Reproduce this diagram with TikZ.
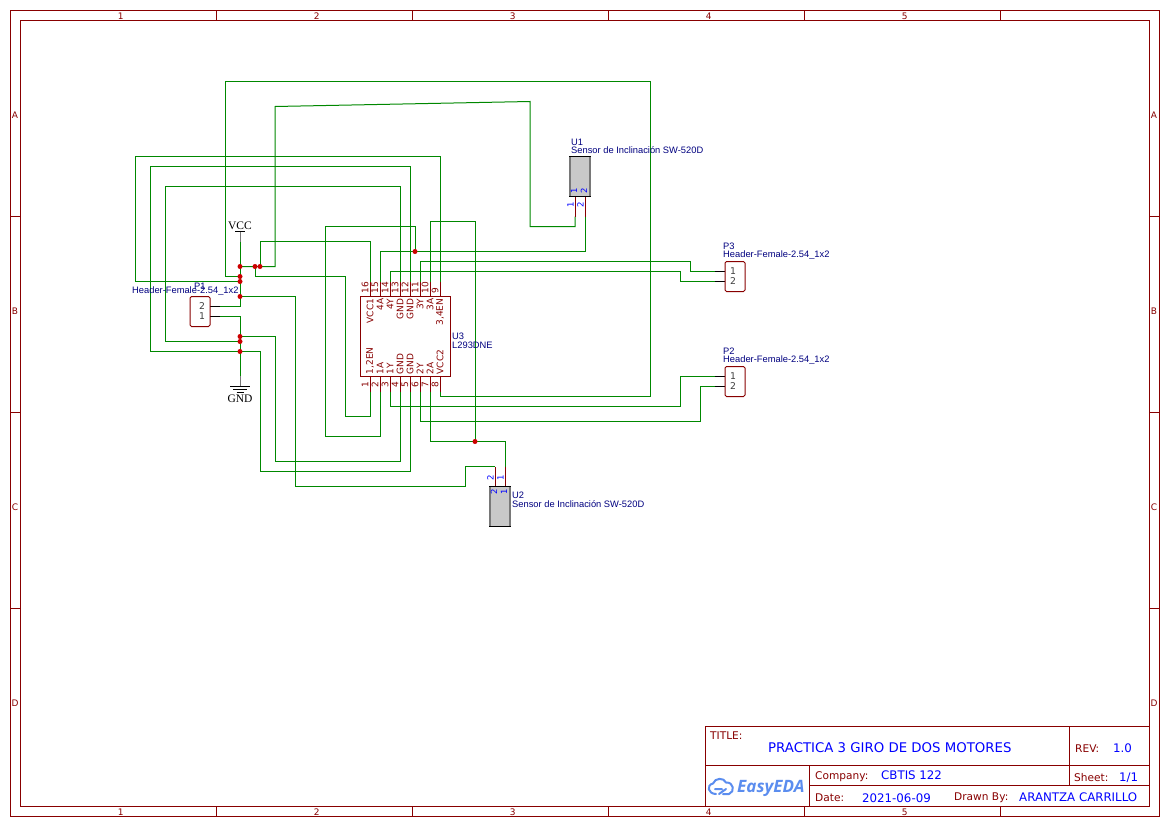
\documentclass[tikz,border=0pt]{standalone}
\usepackage{fontspec}
\setmainfont{DejaVu Sans}
\newfontfamily\arialf{Liberation Sans}
\newfontfamily\serf{Liberation Serif}
\newfontfamily\logof{Open Sans}
\definecolor{frame}{HTML}{880000}
\definecolor{wirec}{HTML}{008800}
\definecolor{junc}{HTML}{CC0000}
\definecolor{compl}{HTML}{000080}
\definecolor{stem}{HTML}{787878}
\definecolor{bodyg}{HTML}{C8C8C8}
\definecolor{logoc}{HTML}{5B8DEF}
\tikzset{
  frameline/.style={draw=frame,line width=1pt},
  wire/.style={draw=wirec,line width=1pt},
  pinline/.style={draw=frame,line width=1pt},
  blackpin/.style={draw=black,line width=1pt},
  stemline/.style={draw=stem,line width=1pt},
  zone/.style={inner sep=0pt,text=frame,font=\fontsize{9}{9}\selectfont},
  lab/.style={inner sep=0pt,anchor=west,text=compl,font=\arialf\fontsize{9.33}{9.33}\selectfont},
  pnum/.style={inner sep=0pt,text=black!75,font=\fontsize{9.33}{9.33}\selectfont},
  pname/.style={inner sep=0pt,text=frame,rotate=90,font=\fontsize{9}{9}\selectfont},
  snum/.style={inner sep=0pt,text=blue,rotate=90,font=\fontsize{8.5}{8.5}\selectfont},
  hdr/.style={draw=frame,line width=1pt,rounded corners=1.5pt,minimum width=20pt,minimum height=30pt,inner sep=0pt},
  sensor/.style={fill=bodyg,draw=stem,line width=1.6pt,minimum width=20pt,minimum height=40pt,inner sep=0pt},
  flagtxt/.style={inner sep=0pt,text=black,font=\serf\fontsize{11.5}{11.5}\selectfont},
  tred/.style={inner sep=0pt,anchor=west,text=frame,font=\fontsize{10.6}{10.6}\selectfont},
  tblue/.style={inner sep=0pt,anchor=west,text=blue,font=\fontsize{11.8}{11.8}\selectfont},
  dot/.style={circle,fill=junc,inner sep=0pt,minimum size=5pt}
}
\begin{document}
\begin{tikzpicture}[x=1pt,y=-1pt]
\useasboundingbox (0,0) rectangle (1169,827);
\fill[white] (0,0) rectangle (1169,827);
% ---- sheet frame
\draw[frameline] (10,10.5) rectangle (1159,816.5);
\draw[frameline] (20,20.5) rectangle (1149,806.5);
\foreach \x in {216,412,608,804,1000}{
  \draw[frameline] (\x,10.5) -- (\x,20.5);
  \draw[frameline] (\x,806.5) -- (\x,816.5);}
\foreach \y in {216.5,412.5,608.5}{
  \draw[frameline] (10,\y) -- (20,\y);
  \draw[frameline] (1149,\y) -- (1159,\y);}
\foreach \x/\t in {120.7/1,316.7/2,512.7/3,708.7/4,904.7/5}{
  \node[zone] (zt\t) at (\x,16) {\t};
  \node[zone] (zb\t) at (\x,812) {\t};}
\foreach \y/\t in {115.5/A,311.5/B,507.5/C,703.5/D}{
  \node[zone] (zl\t) at (15,\y) {\t};
  \node[zone] (zr\t) at (1154,\y) {\t};}
% ---- title block
\draw[frameline] (705,806.5) -- (705,726.5) -- (1149,726.5);
\draw[frameline] (705,765.5) -- (1149,765.5);
\draw[frameline] (1069,726.5) -- (1069,785.5);
\draw[frameline] (809,765.5) -- (809,806.5);
\draw[frameline] (809,785.5) -- (1149,785.5);
\node[tred] (tTitle) at (710,735.5) {TITLE:};
\node[tblue,font=\fontsize{13.3}{13.3}\selectfont] (tName) at (768,747.5) {PRACTICA 3 GIRO DE DOS MOTORES};
\node[tred] (tRev) at (1075,749) {REV:};
\node[tblue,font=\fontsize{11.8}{11.8}\selectfont] (tRevV) at (1113,748.5) {1.0};
\node[tred] (tCo) at (815,776.5) {Company:};
\node[tblue] (tCoV) at (881,775.5) {CBTIS 122};
\node[tred] (tSh) at (1074,777.5) {Sheet:};
\node[tblue] (tShV) at (1119,777.5) {1/1};
\node[tred] (tDa) at (815,798) {Date:};
\node[tblue] (tDaV) at (862,798) {2021-06-09};
\node[tred] (tDr) at (954,798) {Drawn By:};
\node[tblue] (tDrV) at (1019,797.5) {ARANTZA CARRILLO};
% logo
\draw[logoc,line width=2pt,line cap=round,line join=round]
  (716,794) .. controls (708,794) and (706,785) .. (713,783.5)
  .. controls (715,777.5) and (724,777.5) .. (726,782.5)
  .. controls (734,782) and (735,792) .. (729,794) -- (723,794);
\draw[logoc,line width=2pt,line cap=round] (715,789) -- (722,789) (719,794) -- (726,789);
\node[inner sep=0pt,anchor=west,text=logoc,font=\logof\bfseries\itshape\fontsize{17}{17}\selectfont] (logo) at (737,788) {EasyEDA};
% ---- anchors
\foreach \n/\x in {16/370,15/380,14/390,13/400,12/410,11/420,10/430,9/440}{
  \coordinate (p\n) at (\x,281.5);
  \draw[pinline] (p\n) -- (\x,296.5);
  \node[pname,anchor=west] (pn\n) at (\x-5,293.5) {\n};}
\foreach \n/\x in {1/370,2/380,3/390,4/400,5/410,6/420,7/430,8/440}{
  \coordinate (p\n) at (\x,391.5);
  \draw[pinline] (p\n) -- (\x,376.5);
  \node[pname,anchor=west] (pn\n) at (\x-5,387.5) {\n};}
\coordinate (a1) at (575,216.5);
\coordinate (a2) at (585,216.5);
\coordinate (b1) at (505,466.5);
\coordinate (b2) at (495,466.5);
\coordinate (vcc) at (240,242);
\coordinate (gnd) at (240,376);
\coordinate (h1a) at (220,306.5);
\coordinate (h1b) at (220,316.5);
\coordinate (h3a) at (715,271.5);
\coordinate (h3b) at (715,281.5);
\coordinate (h2a) at (715,376.5);
\coordinate (h2b) at (715,386.5);
\coordinate (j1) at (240,266.5);
\coordinate (j2) at (240,276.5);
\coordinate (j3) at (240,281.5);
\coordinate (j4) at (240,296.5);
\coordinate (j5) at (240,336.5);
\coordinate (j6) at (240,341.5);
\coordinate (j7) at (240,351.5);
\coordinate (j8) at (255,266.5);
\coordinate (j9) at (260,266.5);
\coordinate (j10) at (415,251.5);
\coordinate (j11) at (475,441.5);
% ---- wires
\draw[wire] (vcc) -- (240,306.5) -- (h1a);
\draw[wire] (gnd) -- (240,316.5) -- (h1b);
\draw[wire] (j1) -- (275,266.5) -- (275,106.5) -- (530,101.5) |- (575,226.5) -- (a1);
\draw[wire] (j2) -| (225,81.5) -| (650,396.5) -| (p8);
\draw[wire] (j3) -| (135,156.5) -| (p9);
\draw[wire] (j4) -| (295,486.5) -| (465,466.5) -- (b2);
\draw[wire] (j5) -| (275,461.5) -| (p4);
\draw[wire] (j6) -| (165,186.5) -| (p13);
\draw[wire] (j7) -| (150,166.5) -| (p12);
\draw[wire] (j7) -| (260,471.5) -| (p5);
\draw[wire] (j8) |- (345,276.5) |- (370,416.5) -- (p1);
\draw[wire] (j9) |- (370,241.5) -- (p16);
\draw[wire] (p15) |- (j10) -- (585,251.5) -- (a2);
\draw[wire] (j10) |- (325,226.5) |- (380,436.5) -- (p2);
\draw[wire] (p10) |- (475,221.5) -- (j11);
\draw[wire] (p7) |- (505,441.5) -- (b1);
\draw[wire] (p14) |- (680,271.5) |- (h3b);
\draw[wire] (p11) |- (690,261.5) |- (h3a);
\draw[wire] (p3) |- (680,406.5) |- (h2a);
\draw[wire] (p6) |- (700,421.5) |- (h2b);
\foreach \c in {j1,j2,j3,j4,j5,j6,j7,j8,j9,j10,j11}{\node[dot] (d\c) at (\c) {};}
% ---- power flags
\draw[stemline] (vcc) -- (240,231.5);
\draw[line width=1pt,draw=black] (235,231.5) -- (245,231.5);
\node[flagtxt] (vcct) at (240,226) {VCC};
\draw[stemline] (gnd) -- (240,386.5);
\draw[line width=1pt,draw=black] (230,386.5) -- (250,386.5) (233,389.5) -- (247,389.5) (236.5,392.5) -- (243.5,392.5);
\node[flagtxt] (gndt) at (240,398.5) {GND};
% ---- U3
\node[draw=frame,line width=1pt,minimum width=90pt,minimum height=80pt,inner sep=0pt] (U3) at (405,336.5) {};
\foreach \x/\t in {370/VCC1,380/4A,390/4Y,400/GND,410/GND,420/3Y,430/3A,440/{3,4EN}}{
  \node[pname,anchor=east] at (\x,298.5) {\t};}
\foreach \x/\t in {370/{1,2EN},380/1A,390/1Y,400/GND,410/GND,420/2Y,430/2A,440/VCC2}{
  \node[pname,anchor=west] at (\x,374.5) {\t};}
\node[lab] (U3a) at (452,336) {U3};
\node[lab] (U3b) at (452,345) {L293DNE};
% ---- P1
\draw[blackpin] (h1a) -- (210,306.5);
\draw[blackpin] (h1b) -- (210,316.5);
\node[hdr] (P1) at (200,311.5) {};
\node[pnum] (P1n2) at (202,306.5) {2};
\node[pnum] (P1n1) at (202,316.5) {1};
\node[lab] (P1a) at (194,286) {P1};
\node[lab] (P1b) at (132,291.5) {Header-Female-2.54\_1x2};
% ---- P3
\draw[blackpin] (h3a) -- (725,271.5);
\draw[blackpin] (h3b) -- (725,281.5);
\node[hdr] (P3) at (735,276.5) {};
\node[pnum] (P3n1) at (733,271.5) {1};
\node[pnum] (P3n2) at (733,281.5) {2};
\node[lab] (P3a) at (723,246.5) {P3};
\node[lab] (P3b) at (723,255.5) {Header-Female-2.54\_1x2};
% ---- P2
\draw[blackpin] (h2a) -- (725,376.5);
\draw[blackpin] (h2b) -- (725,386.5);
\node[hdr] (P2) at (735,381.5) {};
\node[pnum] (P2n1) at (733,376.5) {1};
\node[pnum] (P2n2) at (733,386.5) {2};
\node[lab] (P2a) at (723,351.5) {P2};
\node[lab] (P2b) at (723,360.5) {Header-Female-2.54\_1x2};
% ---- U1
\draw[pinline] (a1) -- (575,196.5);
\draw[pinline] (a2) -- (585,196.5);
\node[sensor] (U1) at (580,176.5) {};
\draw[line width=1pt,draw=black] (569,156.5) -- (591,156.5) (569,196.5) -- (591,196.5);
\node[snum] (U1i1) at (574,191) {1};
\node[snum] (U1i2) at (584,191) {2};
\node[snum] (U1o1) at (570.5,205) {1};
\node[snum] (U1o2) at (580.5,205) {2};
\node[lab] (U1a) at (571,142) {U1};
\node[lab] (U1b) at (571,150.5) {Sensor de Inclinación SW-520D};
% ---- U2
\draw[pinline] (b1) -- (505,486.5);
\draw[pinline] (b2) -- (495,486.5);
\node[sensor] (U2) at (500,506.5) {};
\draw[line width=1pt,draw=black] (489,486.5) -- (511,486.5) (489,526.5) -- (511,526.5);
\node[snum] (U2i2) at (494,491.5) {2};
\node[snum] (U2i1) at (504,491.5) {1};
\node[snum] (U2o2) at (490.5,478) {2};
\node[snum] (U2o1) at (500.5,478) {1};
\node[lab] (U2a) at (512,495.5) {U2};
\node[lab] (U2b) at (512,504.5) {Sensor de Inclinación SW-520D};
\end{tikzpicture}
\end{document}
